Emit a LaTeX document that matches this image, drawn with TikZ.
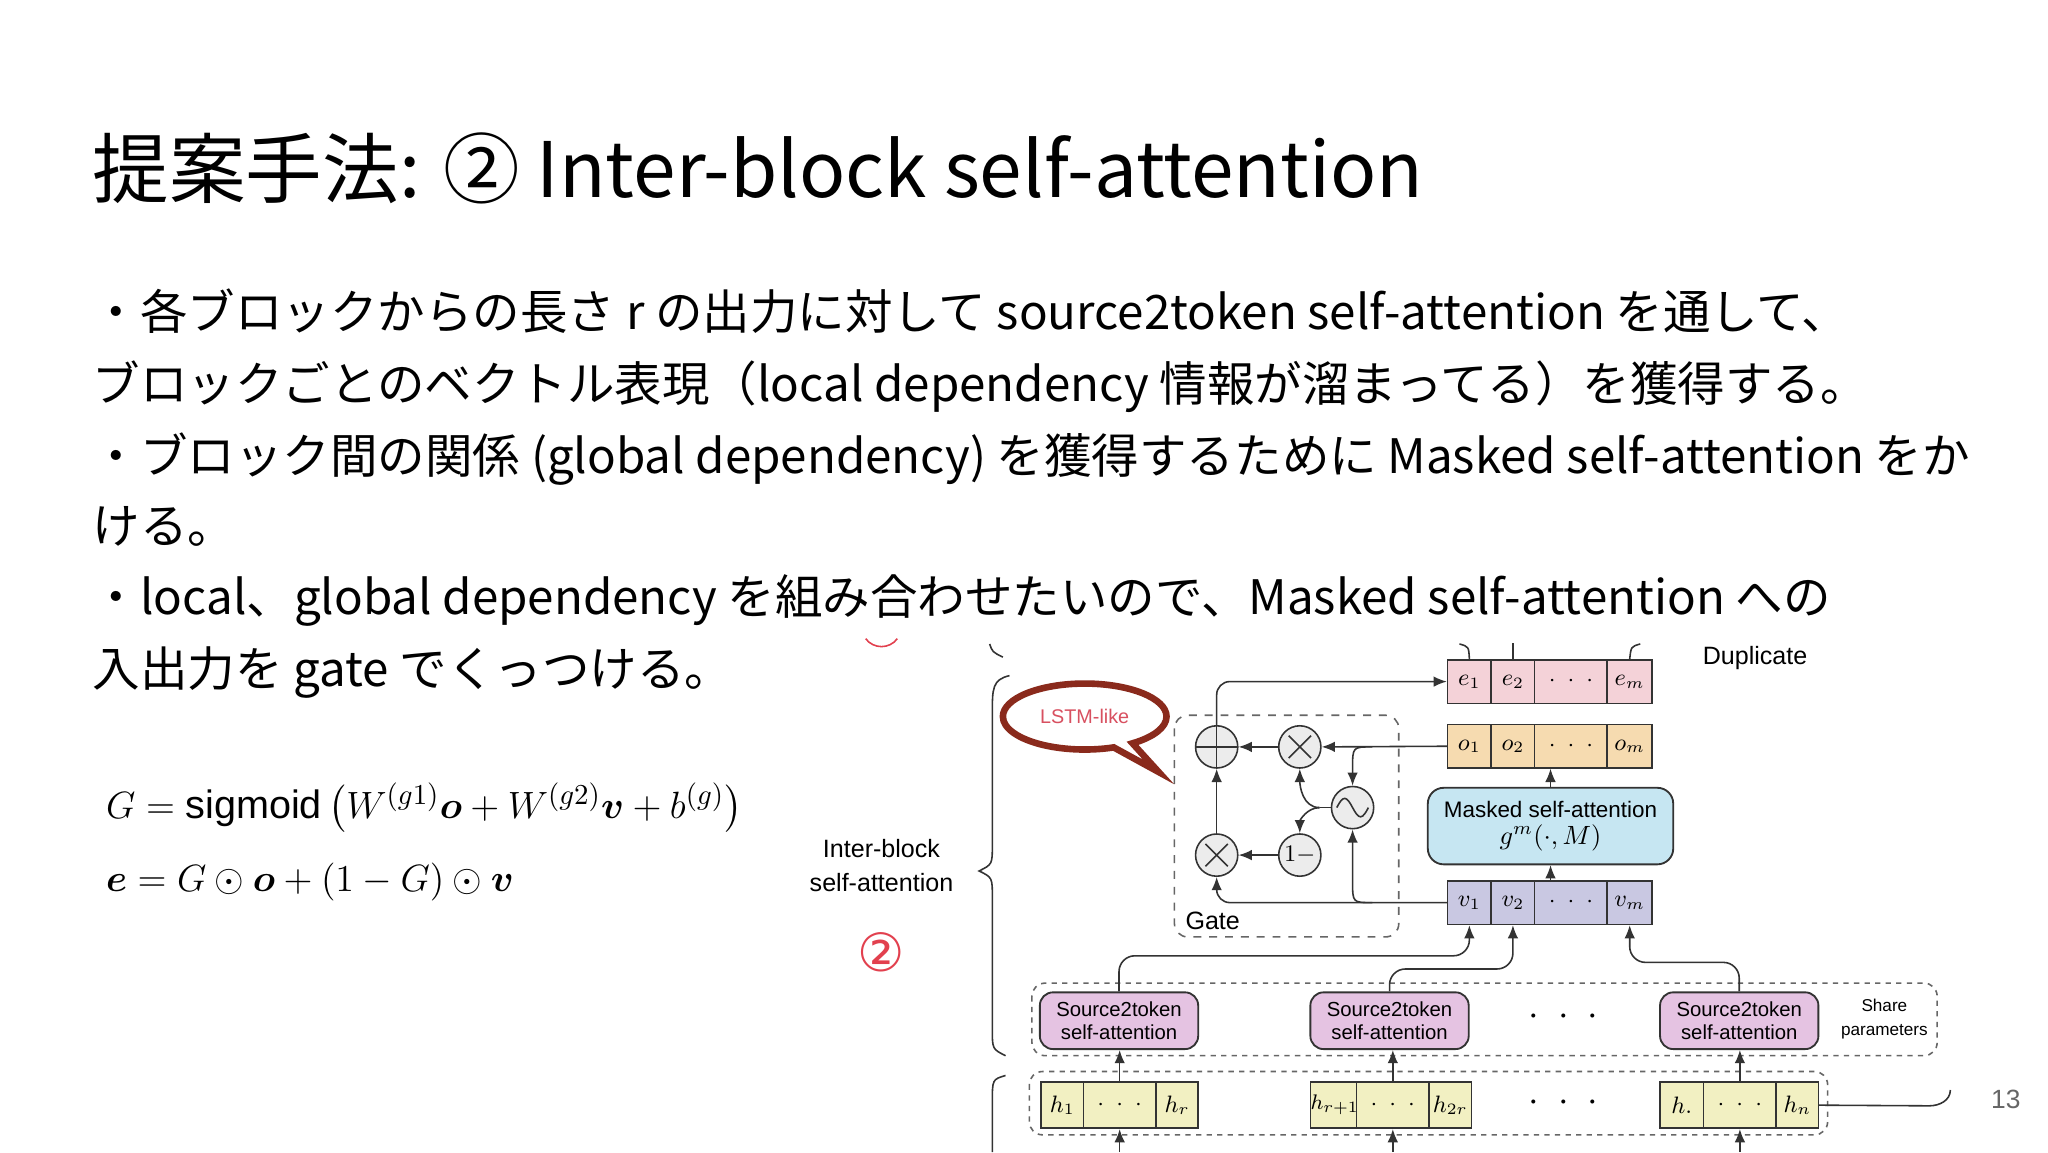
\documentclass[tikz,border=0pt]{standalone}
\usepackage{amsmath,amssymb}
\usepackage{fontspec}
\setmainfont{Liberation Sans}
\newfontfamily\jp{Noto Sans CJK JP}
\newfontfamily\djfont{DejaVu Sans}
\usetikzlibrary{shapes.callouts,arrows.meta,calc}
\definecolor{epink}{HTML}{F4D2D8}
\definecolor{oorange}{HTML}{F6DBB0}
\definecolor{vlav}{HTML}{C9C8E2}
\definecolor{mblue}{HTML}{C6E6F2}
\definecolor{spink}{HTML}{E5C3E2}
\definecolor{hyel}{HTML}{F2F0C2}
\definecolor{callbrown}{HTML}{8A2A1C}
\definecolor{callred}{HTML}{D85060}
\definecolor{redtwo}{HTML}{E2404E}
\begin{document}
\begin{tikzpicture}[x=0.5pt,y=-0.5pt,
  cell/.style={draw=black!80,line width=0.6pt,minimum height=16.5pt,inner sep=0pt,font=\small},
  gc/.style={circle,draw=black!80,line width=0.6pt,fill=gray!15,minimum size=16pt,inner sep=0pt},
  arr/.style={-{Latex[length=5pt,width=4pt]},line width=0.6pt,black!80},
  ln/.style={line width=0.6pt,black!80},
  dbox/.style={draw=black!60,dashed,line width=0.6pt,rounded corners=5pt},
  sbox/.style={draw=black!80,line width=0.7pt,rounded corners=5pt,fill=spink,minimum width=60pt,minimum height=21.5pt,inner sep=0pt,align=center,font=\fontsize{7.7}{9}\selectfont},
  body/.style={anchor=base west,inner sep=0pt,font=\jp\fontsize{18}{20}\selectfont}]
\useasboundingbox[fill=white] (0,0) rectangle (1552,873);
% title and text
\node[anchor=base west,inner sep=0pt,font=\jp\fontsize{29}{32}\selectfont] (title) at (70,150) {提案手法: ② Inter-block self-attention};
\node[body] (l1) at (70,250) {・各ブロックからの長さ r の出力に対して source2token self-attention を通して、};
\node[body] (l2) at (70,304) {ブロックごとのベクトル表現（local dependency 情報が溜まってる）を獲得する。};
\node[body] (l3) at (70,359) {・ブロック間の関係 (global dependency) を獲得するために Masked self-attention をか};
\node[body] (l4) at (70,412) {ける。};
\node[body] (l5) at (70,466) {・local、global dependency を組み合わせたいので、Masked self-attention への};
\node[body] (l6) at (70,520) {入出力を gate でくっつける。};
% formulas
\node[anchor=west,inner sep=0pt,font=\fontsize{15}{18}\selectfont] (f1) at (80,612) {$G=\mathrm{sigmoid}\left(W^{(g1)}\boldsymbol{o}+W^{(g2)}\boldsymbol{v}+b^{(g)}\right)$};
\node[anchor=west,inner sep=0pt,font=\fontsize{15}{18}\selectfont] (f2) at (80,668) {$\boldsymbol{e}=G\odot\boldsymbol{o}+(1-G)\odot\boldsymbol{v}$};
% left labels
\node[align=center,font=\fontsize{9.5}{13}\selectfont] (ib) at (668,656) {Inter-block\\self-attention};
\node[text=redtwo,font=\djfont\fontsize{20}{20}\selectfont] (two) at (668,722) {②};
\draw[redtwo,line width=0.6pt] (656,484) .. controls (662,492) and (674,492) .. (680,484);
% braces
\draw[ln] (750,488) .. controls (752,494) .. (760,498);
\draw[ln] (765,512) .. controls (752,515) and (752,522) .. (752,540) -- (752,640) .. controls (752,655) .. (742,660) .. controls (752,665) .. (752,680) -- (752,780) .. controls (752,795) .. (762,800);
\draw[ln] (762,815) .. controls (752,818) .. (752,835) -- (752,873);
% callout
\node[ellipse callout,draw=callbrown,line width=2.5pt,fill=white,callout absolute pointer={(878,585)},minimum width=62pt,minimum height=25pt,text=callred,font=\fontsize{7.5}{9}\selectfont] (call) at (822,543) {LSTM-like};
% gate box
\draw[dbox] (890,542) rectangle (1060,710);
\node[anchor=west,inner sep=0pt,font=\fontsize{9.5}{11}\selectfont] (gatel) at (898,698) {Gate};
% rows
\node[cell,fill=epink,minimum width=16.5pt] (e1) at (1113.5,516.5) {$e_1$};
\node[cell,fill=epink,minimum width=16.5pt] (e2) at (1146.5,516.5) {$e_2$};
\node[cell,fill=epink,minimum width=27.5pt] (ed) at (1190.5,516.5) {$\cdot\ \cdot\ \cdot$};
\node[cell,fill=epink,minimum width=17pt] (em) at (1235,516.5) {$e_m$};
\node[cell,fill=oorange,minimum width=16.5pt] (o1) at (1113.5,565.5) {$o_1$};
\node[cell,fill=oorange,minimum width=16.5pt] (o2) at (1146.5,565.5) {$o_2$};
\node[cell,fill=oorange,minimum width=27.5pt] (od) at (1190.5,565.5) {$\cdot\ \cdot\ \cdot$};
\node[cell,fill=oorange,minimum width=17pt] (om) at (1235,565.5) {$o_m$};
\node[cell,fill=vlav,minimum width=16.5pt] (v1) at (1113.5,684) {$v_1$};
\node[cell,fill=vlav,minimum width=16.5pt] (v2) at (1146.5,684) {$v_2$};
\node[cell,fill=vlav,minimum width=27.5pt] (vd) at (1190.5,684) {$\cdot\ \cdot\ \cdot$};
\node[cell,fill=vlav,minimum width=17pt] (vm) at (1235,684) {$v_m$};
\node[draw=black!80,line width=0.7pt,rounded corners=6pt,fill=mblue,minimum width=93pt,minimum height=29pt,inner sep=0pt,align=center,font=\fontsize{8.5}{11}\selectfont] (ms) at (1175,626) {Masked self-attention\\[-1pt]{\normalsize$g^m(\cdot,M)$}};
\draw[arr,line width=0.4pt] (ms.north) -- (od.south -| ms.north);
\draw[arr,line width=0.4pt] (vd.north -| ms.south) -- (ms.south);
\node[font=\fontsize{9.5}{11}\selectfont] (dup) at (1330,499) {Duplicate};
\draw[ln] (1106,488) .. controls (1113,490) .. (e1.north);
\draw[ln] (e2.north) -- ++(0,-12);
\draw[ln] (1243,488) .. controls (1236,490) .. (em.north);
% gate circles
\node[gc,path picture={\draw[line width=0.6pt] (path picture bounding box.north)--(path picture bounding box.south) (path picture bounding box.west)--(path picture bounding box.east);}] (pl) at (922,566) {};
\node[gc,path picture={\draw[line width=0.6pt] ($(path picture bounding box.center)+(45:6pt)$)--($(path picture bounding box.center)+(225:6pt)$) ($(path picture bounding box.center)+(135:6pt)$)--($(path picture bounding box.center)+(-45:6pt)$);}] (xt) at (985,566) {};
\node[gc,path picture={\draw[line width=0.6pt] ($(path picture bounding box.center)+(45:6pt)$)--($(path picture bounding box.center)+(225:6pt)$) ($(path picture bounding box.center)+(135:6pt)$)--($(path picture bounding box.center)+(-45:6pt)$);}] (xb) at (922,648) {};
\node[gc,font=\small] (om1) at (985,648) {$1-$};
\node[gc,path picture={\draw[line width=0.6pt,shift={(path picture bounding box.center)}] (-6pt,0) sin (-3pt,3.5pt) cos (0pt,0pt) sin (3pt,-3.5pt) cos (6pt,0pt);}] (sg) at (1025,612) {};
\coordinate (j1) at (1040,566);
\coordinate (j2) at (1000,612);
\coordinate (j3) at (1040,684);
\draw[arr] (o1.west) -- (xt.east);
\draw[arr] (j1) .. controls (1025,566) .. (1025,582) -- (sg.north);
\draw[ln] (sg.west) -- (j2);
\draw[arr] (j2) to[out=180,in=-90] (xt.south);
\draw[arr] (j2) to[out=180,in=90] (om1.north);
\draw[arr] (xt.west) -- (pl.east);
\draw[arr] (om1.west) -- (xb.east);
\draw[arr] (xb.north) -- (pl.south);
\draw[arr,rounded corners=5pt] (v1.west) -| (xb.south);
\draw[arr] (j3) .. controls (1025,684) .. (1025,668) -- (sg.south);
\draw[arr,rounded corners=5pt] (pl.north) |- (e1.west);
% source2token
\draw[dbox,dash pattern=on 2pt off 2pt] (782,745) rectangle (1468,800);
\node[sbox] (s1) at (848,773.5) {Source2token\\self-attention};
\node[sbox] (s2) at (1053,773.5) {Source2token\\self-attention};
\node[sbox] (s3) at (1318,773.5) {Source2token\\self-attention};
\node[font=\Large] (sd) at (1185,771) {$\cdot\;\cdot\;\cdot$};
\node[align=center,font=\fontsize{6.5}{9}\selectfont] (share) at (1428,772) {Share\\parameters};
% h rows
\draw[dbox,dash pattern=on 2pt off 2pt] (780,812) rectangle (1385,860);
\node[cell,fill=hyel,minimum width=16pt,minimum height=17.5pt] (h1) at (805,837.5) {$h_1$};
\node[cell,fill=hyel,minimum width=27.5pt,minimum height=17.5pt] (hd1) at (848.5,837.5) {$\cdot\ \cdot\ \cdot$};
\node[cell,fill=hyel,minimum width=16pt,minimum height=17.5pt] (hr) at (892,837.5) {$h_r$};
\node[cell,fill=hyel,minimum width=16.5pt,minimum height=17.5pt] (h2a) at (1011.5,837.5) {\footnotesize$h_{r+1}$};
\node[cell,fill=hyel,minimum width=27.5pt,minimum height=17.5pt] (hd2) at (1055.5,837.5) {$\cdot\ \cdot\ \cdot$};
\node[cell,fill=hyel,minimum width=16pt,minimum height=17.5pt] (h2b) at (1099,837.5) {$h_{2r}$};
\node[cell,fill=hyel,minimum width=16.5pt,minimum height=17.5pt] (h3a) at (1274.5,837.5) {$h.$};
\node[cell,fill=hyel,minimum width=27.5pt,minimum height=17.5pt] (hd3) at (1318.5,837.5) {$\cdot\ \cdot\ \cdot$};
\node[cell,fill=hyel,minimum width=16pt,minimum height=17.5pt] (hn) at (1362,837.5) {$h_n$};
\node[font=\Large] (hdd) at (1185,836) {$\cdot\;\cdot\;\cdot$};
\coordinate (b1) at (848.5,873);
\coordinate (b2) at (1055.5,873);
\coordinate (b3) at (1318.5,873);
\draw[arr] (b1) -- (hd1.south);
\draw[arr] (b2) -- (hd2.south);
\draw[arr] (b3) -- (hd3.south);
\draw[arr] (hd1.north) -- (s1.south -| hd1.north);
\draw[arr] (hd2.north) -- (s2.south -| hd2.north);
\draw[arr] (hd3.north) -- (s3.south -| hd3.north);
\draw[arr,rounded corners=6pt] (s1.north) -- ++(0,-27) -| (v1.south);
\draw[arr,rounded corners=6pt] (s2.north) -- ++(0,-17) -| (v2.south);
\draw[arr,rounded corners=6pt] (s3.north) -- ++(0,-22) -| (vm.south);
\coordinate (rt) at (1478,826);
\draw[ln] (hn.east) -- (1462,838) to[out=0,in=-90] (rt);
\node[text=black!60,font=\fontsize{10}{12}\selectfont] (pg) at (1520,833) {13};
\end{tikzpicture}
\end{document}
